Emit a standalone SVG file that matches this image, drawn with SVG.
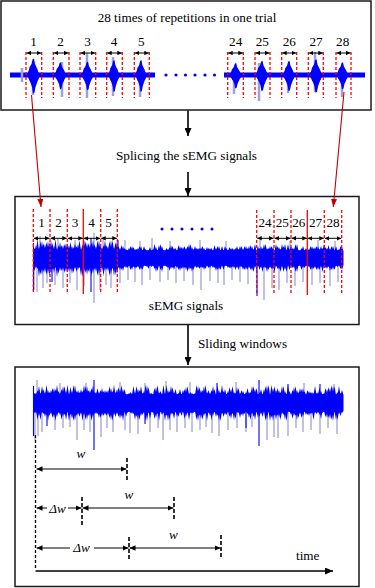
<svg xmlns="http://www.w3.org/2000/svg" width="375" height="588" viewBox="0 0 375 588">
<defs>
<style>
.box{fill:#fff;stroke:#1a1a1a;stroke-width:1.5}
.t{font-family:"Liberation Serif","Times New Roman",serif;font-size:13.2px;fill:#000}
.c{text-anchor:middle}
.it{font-style:italic}
.sig{fill:#0000ff}
.ls{stroke:#8484cc;stroke-width:1;fill:none}
.lw{stroke:#a0a0dc;stroke-width:2.5;fill:none}
.ds{stroke:#0000ff;stroke-width:1.1;fill:none}
.rd{stroke:#ff0000;stroke-width:1.3;stroke-dasharray:3 2;fill:none}
.rs{stroke:#ff0000;stroke-width:1.3;fill:none}
.da{stroke:#000;stroke-width:1;fill:none;marker-start:url(#sa);marker-end:url(#sa)}
.wa{stroke:#000;stroke-width:1;fill:none;marker-start:url(#wa);marker-end:url(#wa)}
.main{stroke:#000;stroke-width:1.6;fill:none;marker-end:url(#ma)}
.red{stroke:#c00000;stroke-width:1.1;fill:none;marker-end:url(#ra)}
.tick{stroke:#000;stroke-width:1.6;stroke-dasharray:4 2;fill:none}
.dot{fill:#0000ff}
</style>
<marker id="sa" viewBox="0 0 10 10" refX="10" refY="5" markerWidth="4.5" markerHeight="4.5" markerUnits="userSpaceOnUse" orient="auto-start-reverse"><path d="M0,0L10,5L0,10z" fill="#000"/></marker>
<marker id="wa" viewBox="0 0 10 10" refX="10" refY="5" markerWidth="6" markerHeight="5.5" preserveAspectRatio="none" markerUnits="userSpaceOnUse" orient="auto-start-reverse"><path d="M0,0L10,5L0,10z" fill="#000"/></marker>
<marker id="ma" viewBox="0 0 10 10" refX="10" refY="5" markerWidth="8" markerHeight="7" preserveAspectRatio="none" markerUnits="userSpaceOnUse" orient="auto"><path d="M0,0L10,5L0,10z" fill="#000"/></marker>
<marker id="ra" viewBox="0 0 10 10" refX="10" refY="5" markerWidth="8" markerHeight="6" preserveAspectRatio="none" markerUnits="userSpaceOnUse" orient="auto"><path d="M0,0L10,5L0,10z" fill="#c00000"/></marker>
<g id="burst" fill="#0000ff">
<ellipse rx="5" ry="8"/>
<path d="M-7,0L-5,-3L-4,-7L-2,-10L-1,-14L0.5,-15L1.5,-10L3,-7L4.5,-3L7,0L5,3L3.5,7L2,11L1,16L-0.5,17L-1.5,11L-3,7L-5,3Z"/>
<path d="M-6,-1L-4.5,-4L-3,-1ZM3,1L4.5,5L6,1Z"/>
</g>
<path id="b3" d="M33,395l1.5-2 1.5 2 1.5-5 1.5 5 1.5-2 1.5 2 1.5-6 1.5 6 1.5-10 1.5 10 1.5-3 1.5 3 1.5-7 1.5 7 1.5-6 1.5 6 1.5-4 1.5 4 1.5-6 1.5 6 1.5-9 1.5 9 1.5-10 1.5 10 1.5-8 1.5 8 1.5-10 1.5 10 1.5-4 1.5 4 1.5-3 1.5 3 1.5-4 1.5 4 1.5-9 1.5 9 1.5-5 1.5 5 1.5-7 1.5 7 1.5-3 1.5 3 1.5-7 1.5 7 1.5-5 1.5 5 1.5-4 1.5 4 1.5-4 1.5 4 1.5-9 1.5 9 1.5-4 1.5 4 1.5-3 1.5 3 1.5-8 1.5 8 1.5-10 1.5 10 1.5-6 1.5 6 1.5-1 1.5 1 1.5-3 1.5 3 1.5-9 1.5 9 1.5-9 1.5 9 1.5-5 1.5 5 1.5-2 1.5 2 1.5-10 1.5 10 1.5-8 1.5 8 1.5-2 1.5 2 1.5-7 1.5 7 1.5-10 1.5 10 1.5-4 1.5 4 1.5-10 1.5 10 1.5-10 1.5 10 1.5-4 1.5 4 1.5-8 1.5 8 1.5-6 1.5 6 1.5-2 1.5 2 1.5-1 1.5 1 1.5-6 1.5 6 1.5-9 1.5 9 1.5-3 1.5 3 1.5-1 1.5 1 1.5-10 1.5 10 1.5-8 1.5 8 1.5-5 1.5 5 1.5-10 1.5 10 1.5-5 1.5 5 1.5-5 1.5 5 1.5-6 1.5 6 1.5-10 1.5 10 1.5-3 1.5 3 1.5-4 1.5 4 1.5-1 1.5 1 1.5-8 1.5 8 1.5-9 1.5 9 1.5-2 1.5 2 1.5-7 1.5 7 1.5-5 1.5 5 1.5-1 1.5 1 1.5-7 1.5 7 1.5-3 1.5 3 1.5-9 1.5 9 1.5-7 1.5 7 1.5-3 1.5 3 1.5-1 1.5 1 1.5-9 1.5 9 1.5-10 1.5 10 1.5-10 1.5 10 1.5-9 1.5 9 1.5-7 1.5 7 1.5-3 1.5 3 1.5-9 1.5 9 1.5-1 1.5 1 1.5-4 1.5 4 1.5-5 1.5 5 1.5-9 1.5 9 1.5-3 1.5 3 1.5-6 1.5 6 1.5-4 1.5 4 1.5-5 1.5 5 1.5-3 1.5 3 1.5-2 1.5 2 1.5-2 1.5 2 1.5-8 1.5 8 1.5-1 1.5 1 1.5-7 1.5 7 1.5-8 1.5 8 1.5-10 1.5 10 1.5-9 1.5 9 1.5-3 1.5 3 1.5-2 1.5 2V411l-1.5 5-1.5-5 -1.5 9-1.5-9 -1.5 1-1.5-1 -1.5 9-1.5-9 -1.5 7-1.5-7 -1.5 6-1.5-6 -1.5 2-1.5-2 -1.5 4-1.5-4 -1.5 3-1.5-3 -1.5 9-1.5-9 -1.5 3-1.5-3 -1.5 4-1.5-4 -1.5 1-1.5-1 -1.5 7-1.5-7 -1.5 7-1.5-7 -1.5 5-1.5-5 -1.5 8-1.5-8 -1.5 1-1.5-1 -1.5 10-1.5-10 -1.5 4-1.5-4 -1.5 9-1.5-9 -1.5 5-1.5-5 -1.5 5-1.5-5 -1.5 7-1.5-7 -1.5 1-1.5-1 -1.5 10-1.5-10 -1.5 6-1.5-6 -1.5 6-1.5-6 -1.5 1-1.5-1 -1.5 6-1.5-6 -1.5 9-1.5-9 -1.5 3-1.5-3 -1.5 3-1.5-3 -1.5 4-1.5-4 -1.5 2-1.5-2 -1.5 8-1.5-8 -1.5 3-1.5-3 -1.5 6-1.5-6 -1.5 4-1.5-4 -1.5 6-1.5-6 -1.5 10-1.5-10 -1.5 5-1.5-5 -1.5 1-1.5-1 -1.5 9-1.5-9 -1.5 2-1.5-2 -1.5 3-1.5-3 -1.5 9-1.5-9 -1.5 5-1.5-5 -1.5 9-1.5-9 -1.5 2-1.5-2 -1.5 2-1.5-2 -1.5 2-1.5-2 -1.5 8-1.5-8 -1.5 5-1.5-5 -1.5 6-1.5-6 -1.5 1-1.5-1 -1.5 3-1.5-3 -1.5 9-1.5-9 -1.5 5-1.5-5 -1.5 2-1.5-2 -1.5 1-1.5-1 -1.5 3-1.5-3 -1.5 8-1.5-8 -1.5 1-1.5-1 -1.5 2-1.5-2 -1.5 10-1.5-10 -1.5 4-1.5-4 -1.5 9-1.5-9 -1.5 6-1.5-6 -1.5 3-1.5-3 -1.5 2-1.5-2 -1.5 2-1.5-2 -1.5 1-1.5-1 -1.5 6-1.5-6 -1.5 6-1.5-6 -1.5 6-1.5-6 -1.5 10-1.5-10 -1.5 7-1.5-7 -1.5 5-1.5-5 -1.5 5-1.5-5 -1.5 7-1.5-7 -1.5 3-1.5-3 -1.5 3-1.5-3 -1.5 10-1.5-10 -1.5 5-1.5-5 -1.5 9-1.5-9 -1.5 10-1.5-10 -1.5 6-1.5-6 -1.5 5-1.5-5 -1.5 10-1.5-10 -1.5 4-1.5-4 -1.5 1-1.5-1 -1.5 4-1.5-4 -1.5 9-1.5-9 -1.5 2-1.5-2 -1.5 10-1.5-10 -1.5 7-1.5-7 -1.5 5-1.5-5 -1.5 5-1.5-5 -1.5 3-1.5-3 -1.5 9-1.5-9 -1.5 9-1.5-9 -1.5 2-1.5-2Z"/>
<path id="b2" d="M33,251l1.5-3 1.5 3 1.5-12 1.5 12 1.5-10 1.5 10 1.5-8 1.5 8 1.5-9 1.5 9 1.5-9 1.5 9 1.5-8 1.5 8 1.5-12 1.5 12 1.5-6 1.5 6 1.5-6 1.5 6 1.5-7 1.5 7 1.5-7 1.5 7 1.5-9 1.5 9 1.5-4 1.5 4 1.5-5 1.5 5 1.5-11 1.5 11 1.5-7 1.5 7 1.5-10 1.5 10 1.5-8 1.5 8 1.5-9 1.5 9 1.5-7 1.5 7 1.5-11 1.5 11 1.5-5 1.5 5 1.5-6 1.5 6 1.5-6 1.5 6 1.5-10 1.5 10 1.5-11 1.5 11 1.5-9 1.5 9 1.5-5 1.5 5 1.5-6 1.5 6 1.5-3 1.5 3 1.5-1 1.5 1 1.5-5 1.5 5 1.5-4 1.5 4 1.5-2 1.5 2 1.5-5 1.5 5 1.5-1 1.5 1 1.5-2 1.5 2 1.5-1 1.5 1 1.5-1 1.5 1 1.5-7 1.5 7 1.5-1 1.5 1 1.5-7 1.5 7 1.5-1 1.5 1 1.5-3 1.5 3 1.5-4 1.5 4 1.5-5 1.5 5 1.5-3 1.5 3 1.5-6 1.5 6 1.5-4 1.5 4 1.5-5 1.5 5 1.5-5 1.5 5 1.5-7 1.5 7 1.5-2 1.5 2 1.5-3 1.5 3 1.5-3 1.5 3 1.5-5 1.5 5 1.5-1 1.5 1 1.5-3 1.5 3 1.5-3 1.5 3 1.5-6 1.5 6 1.5-5 1.5 5 1.5-1 1.5 1 1.5-1 1.5 1 1.5-3 1.5 3 1.5-4 1.5 4 1.5-3 1.5 3 1.5-3 1.5 3 1.5-2 1.5 2 1.5-5 1.5 5 1.5-5 1.5 5 1.5-3 1.5 3 1.5-6 1.5 6 1.5-2 1.5 2 1.5-1 1.5 1 1.5-3 1.5 3 1.5-3 1.5 3 1.5-7 1.5 7 1.5-3 1.5 3 1.5-5 1.5 5 1.5-1 1.5 1 1.5-5 1.5 5 1.5-2 1.5 2 1.5-5 1.5 5 1.5-1 1.5 1 1.5-2 1.5 2 1.5-3 1.5 3 1.5-7 1.5 7 1.5-1 1.5 1 1.5-3 1.5 3 1.5-1 1.5 1 1.5-2 1.5 2 1.5-5 1.5 5 1.5-3 1.5 3 1.5-5 1.5 5 1.5-2 1.5 2 1.5-3 1.5 3 1.5-4 1.5 4 1.5-6 1.5 6 1.5-5 1.5 5 1.5-1 1.5 1 1.5-1 1.5 1 1.5-5 1.5 5V265l-1.5 4-1.5-4 -1.5 2-1.5-2 -1.5 5-1.5-5 -1.5 5-1.5-5 -1.5 2-1.5-2 -1.5 3-1.5-3 -1.5 7-1.5-7 -1.5 5-1.5-5 -1.5 5-1.5-5 -1.5 4-1.5-4 -1.5 5-1.5-5 -1.5 2-1.5-2 -1.5 3-1.5-3 -1.5 5-1.5-5 -1.5 1-1.5-1 -1.5 7-1.5-7 -1.5 3-1.5-3 -1.5 5-1.5-5 -1.5 7-1.5-7 -1.5 7-1.5-7 -1.5 7-1.5-7 -1.5 4-1.5-4 -1.5 7-1.5-7 -1.5 4-1.5-4 -1.5 5-1.5-5 -1.5 3-1.5-3 -1.5 7-1.5-7 -1.5 5-1.5-5 -1.5 5-1.5-5 -1.5 7-1.5-7 -1.5 5-1.5-5 -1.5 5-1.5-5 -1.5 5-1.5-5 -1.5 2-1.5-2 -1.5 5-1.5-5 -1.5 5-1.5-5 -1.5 2-1.5-2 -1.5 3-1.5-3 -1.5 1-1.5-1 -1.5 5-1.5-5 -1.5 5-1.5-5 -1.5 5-1.5-5 -1.5 3-1.5-3 -1.5 1-1.5-1 -1.5 3-1.5-3 -1.5 4-1.5-4 -1.5 3-1.5-3 -1.5 4-1.5-4 -1.5 3-1.5-3 -1.5 5-1.5-5 -1.5 4-1.5-4 -1.5 7-1.5-7 -1.5 3-1.5-3 -1.5 4-1.5-4 -1.5 5-1.5-5 -1.5 1-1.5-1 -1.5 3-1.5-3 -1.5 6-1.5-6 -1.5 2-1.5-2 -1.5 1-1.5-1 -1.5 5-1.5-5 -1.5 6-1.5-6 -1.5 4-1.5-4 -1.5 2-1.5-2 -1.5 4-1.5-4 -1.5 1-1.5-1 -1.5 5-1.5-5 -1.5 5-1.5-5 -1.5 3-1.5-3 -1.5 2-1.5-2 -1.5 5-1.5-5 -1.5 3-1.5-3 -1.5 2-1.5-2 -1.5 5-1.5-5 -1.5 3-1.5-3 -1.5 10-1.5-10 -1.5 4-1.5-4 -1.5 11-1.5-11 -1.5 5-1.5-5 -1.5 11-1.5-11 -1.5 4-1.5-4 -1.5 11-1.5-11 -1.5 5-1.5-5 -1.5 11-1.5-11 -1.5 7-1.5-7 -1.5 8-1.5-8 -1.5 12-1.5-12 -1.5 3-1.5-3 -1.5 7-1.5-7 -1.5 8-1.5-8 -1.5 5-1.5-5 -1.5 6-1.5-6 -1.5 8-1.5-8 -1.5 6-1.5-6 -1.5 9-1.5-9 -1.5 3-1.5-3 -1.5 5-1.5-5 -1.5 11-1.5-11 -1.5 10-1.5-10 -1.5 7-1.5-7 -1.5 10-1.5-10 -1.5 4-1.5-4 -1.5 6-1.5-6Z"/>
</defs>

<g id="panel-trials">
<rect class="box" x="1" y="1" width="370" height="109"/>
<text class="t c" x="187" y="22">28 times of repetitions in one trial</text>
<g id="raw-signal">
<path class="sig" d="M10,72.5h145v5h-145zM224,72.5h141v5h-141z"/>
<path class="lw" d="M22,68V82M33,75V95M62,62V97M87,53V98M113,57V96M140,70V97M234,75V94M259,63V101M288,75V93M315,52V92M342,75V97"/>
<use href="#burst" transform="translate(33.5,75) scale(1,1.1)"/>
<use href="#burst" transform="translate(60.5,75) scale(0.95,0.85)"/>
<use href="#burst" transform="translate(87.5,75) scale(0.95,0.9)"/>
<use href="#burst" transform="translate(114,75) scale(0.9,1)"/>
<use href="#burst" transform="translate(141,75) scale(0.9,1)"/>
<use href="#burst" transform="translate(235.7,75) scale(0.95,0.8)"/>
<use href="#burst" transform="translate(262,75) scale(1,0.95)"/>
<use href="#burst" transform="translate(289,75) scale(0.95,0.95)"/>
<use href="#burst" transform="translate(316,75) scale(1,1.05)"/>
<use href="#burst" transform="translate(342.5,75) scale(0.95,0.85)"/>
<circle class="dot" cx="166" cy="75" r="1.6"/><circle class="dot" cx="176" cy="75" r="1.6"/><circle class="dot" cx="185.5" cy="75" r="1.6"/><circle class="dot" cx="195" cy="75" r="1.6"/><circle class="dot" cx="205" cy="75" r="1.6"/><circle class="dot" cx="214.5" cy="75" r="1.6"/>
</g>
<path class="rd" d="M26,52V98M41.7,52V98M53.3,52V98M69,52V98M80,52V98M95.7,52V98M106.7,52V98M122.3,52V98M134.3,52V98M149.3,52V98M227.7,52V98M243.3,52V98M255,52V98M270,52V98M281.7,52V98M296.7,52V98M308.3,52V98M323.3,52V98M336,52V98M351,52V98"/>
<line class="da" x1="26.5" y1="53" x2="41.2" y2="53"/>
<line class="da" x1="53.8" y1="53" x2="68.5" y2="53"/>
<line class="da" x1="80.5" y1="53" x2="95.2" y2="53"/>
<line class="da" x1="107.2" y1="53" x2="121.8" y2="53"/>
<line class="da" x1="134.8" y1="53" x2="148.8" y2="53"/>
<line class="da" x1="228.2" y1="53" x2="242.8" y2="53"/>
<line class="da" x1="255.5" y1="53" x2="269.5" y2="53"/>
<line class="da" x1="282.2" y1="53" x2="296.2" y2="53"/>
<line class="da" x1="308.8" y1="53" x2="322.8" y2="53"/>
<line class="da" x1="336.5" y1="53" x2="350.5" y2="53"/>
<text class="t c" x="33.5" y="46">1</text>
<text class="t c" x="60.5" y="46">2</text>
<text class="t c" x="87.5" y="46">3</text>
<text class="t c" x="114" y="46">4</text>
<text class="t c" x="141.3" y="46">5</text>
<text class="t c" x="235.7" y="46">24</text>
<text class="t c" x="262.3" y="46">25</text>
<text class="t c" x="289.3" y="46">26</text>
<text class="t c" x="316" y="46">27</text>
<text class="t c" x="342.7" y="46">28</text>
</g>

<g id="label-splicing">
<text class="t c" x="186.5" y="159.5">Splicing the sEMG signals</text>
</g>

<g id="panel-spliced">
<rect class="box" x="15" y="196.5" width="344" height="128"/>
<g id="spliced-signal">
<path class="ls" d="M34,265V290M37,265V292M43,265V288M47,265V283M55,265V285M63,265V288M70,265V283M77,265V290M84,265V286M94,233V303M100,265V290M106,265V285M111,265V288M120,265V283M128,265V280M135,265V282M142,265V285M150,265V280M160,265V282M168,265V280M176,265V283M184,265V281M193,265V285M201,265V290M210,265V281M218,265V283M224,265V285M232,265V280M240,265V282M248,265V284M264,265V300M272,265V288M279,265V290M287,265V283M295,265V286M303,265V282M312,265V285M320,265V283M330,265V286M338,265V282M40,251V236M58,251V238M75,251V240M103,251V238M125,251V240M140,251V241M152,251V238M170,251V241M200,251V240M226,251V241M260,251V240M290,251V241M318,251V240M335,251V241"/>
<use href="#b2" class="sig"/>
<use href="#b2" class="sig" transform="translate(1.5,516) scale(1,-1)"/>
<path class="ds" d="M33.5,243V290M91,238V292M257,251V296M52,265V282M118,251V240"/>
</g>
<circle class="dot" cx="162" cy="229" r="1.5"/><circle class="dot" cx="172" cy="229" r="1.5"/><circle class="dot" cx="182" cy="229" r="1.5"/><circle class="dot" cx="192" cy="229" r="1.5"/><circle class="dot" cx="202" cy="229" r="1.5"/><circle class="dot" cx="212" cy="229" r="1.5"/>
<path class="rd" d="M33.3,209V294M50,209V294M67.3,209V294M100.7,209V294M117.3,209V294M256.7,210V295M274,210V295M291,210V295M324.3,210V295M341.7,210V295"/>
<path class="rs" d="M83.3,209V294M307.3,210V295"/>
<line class="da" x1="33.8" y1="238.3" x2="49.5" y2="238.3"/>
<line class="da" x1="50.5" y1="238.3" x2="66.8" y2="238.3"/>
<line class="da" x1="67.8" y1="238.3" x2="82.8" y2="238.3"/>
<line class="da" x1="83.8" y1="238.3" x2="100.2" y2="238.3"/>
<line class="da" x1="101.2" y1="238.3" x2="116.8" y2="238.3"/>
<line class="da" x1="257.2" y1="238.3" x2="273.5" y2="238.3"/>
<line class="da" x1="274.5" y1="238.3" x2="290.5" y2="238.3"/>
<line class="da" x1="291.5" y1="238.3" x2="306.8" y2="238.3"/>
<line class="da" x1="307.8" y1="238.3" x2="323.8" y2="238.3"/>
<line class="da" x1="324.8" y1="238.3" x2="341.2" y2="238.3"/>
<text class="t c" x="41.5" y="227.3">1</text>
<text class="t c" x="58.5" y="227.3">2</text>
<text class="t c" x="75" y="227.3">3</text>
<text class="t c" x="91.5" y="227.3">4</text>
<text class="t c" x="108.5" y="227.3">5</text>
<text class="t c" x="265" y="227">24</text>
<text class="t c" x="282.3" y="227">25</text>
<text class="t c" x="298.8" y="227">26</text>
<text class="t c" x="315.5" y="227">27</text>
<text class="t c" x="333" y="227">28</text>
<text class="t c" x="186" y="309.5">sEMG signals</text>
</g>

<g id="label-sliding">
<text class="t" x="198" y="348.3">Sliding windows</text>
</g>

<g id="panel-windows">
<rect class="box" x="15" y="367" width="344" height="219.5"/>
<g id="window-signal">
<path class="ls" d="M35,411V440M38,411V436M42,411V432M55,411V430M63,411V428M70,411V427M77,411V440M84,411V430M90,411V432M101,411V437M107,411V428M113,411V432M125,411V430M130,411V433M138,411V434M150,411V432M158,411V428M163,411V440M170,411V430M177,411V432M185,411V428M192,411V432M200,411V430M206,411V427M212,411V433M219,411V436M228,411V430M237,411V428M246,411V432M252,411V427M267,411V440M274,411V437M278,411V438M288,411V436M296,411V428M303,411V432M311,411V430M320,411V434M328,411V428M337,411V434M37,395V380M60,395V383M86,395V383M120,395V382M145,395V383M166,395V381M190,395V382M236,395V382M304,395V383M334,395V384"/>
<use href="#b3" class="sig"/>
<use href="#b3" class="sig" transform="translate(1.5,806) scale(1,-1)"/>
<path class="ds" d="M33.5,386V436M94,380V450M259,380V446M217,395V383M288,395V384M320,395V384M47,411V426M145,411V424M246,411V428"/>
</g>
<line class="tick" style="stroke-width:1.3;stroke-dasharray:3 2" x1="35.5" y1="435" x2="35.5" y2="570"/>
<line class="main" style="stroke-width:1.3" x1="35.5" y1="571" x2="333" y2="571"/>
<text class="t" x="296" y="560">time</text>
<line class="wa" x1="36.5" y1="469" x2="126.5" y2="469"/>
<line class="tick" x1="127" y1="458" x2="127" y2="482"/>
<text class="t c it" x="81" y="458">w</text>
<line class="wa" x1="36.5" y1="508" x2="81.5" y2="508"/>
<rect x="47" y="501" width="21" height="13" fill="#fff"/>
<text class="t c it" x="57.5" y="512.5">Δw</text>
<line class="tick" x1="82" y1="497" x2="82" y2="527"/>
<line class="wa" x1="82.5" y1="508" x2="173.5" y2="508"/>
<line class="tick" x1="174" y1="497" x2="174" y2="519"/>
<text class="t c it" x="129" y="499">w</text>
<line class="wa" x1="36.5" y1="548" x2="128.5" y2="548"/>
<rect x="70" y="541" width="24" height="13" fill="#fff"/>
<text class="t c it" x="81.5" y="552">Δw</text>
<line class="tick" x1="129" y1="537" x2="129" y2="560"/>
<line class="wa" x1="129.5" y1="548" x2="220.5" y2="548"/>
<line class="tick" x1="221" y1="535" x2="221" y2="559"/>
<text class="t c it" x="173.5" y="539">w</text>
</g>

<g id="connectors">
<line class="main" x1="188" y1="110.5" x2="188" y2="136"/>
<line class="main" x1="188" y1="172" x2="188" y2="196"/>
<line class="main" x1="188" y1="325" x2="188" y2="365"/>
<line class="red" x1="31.5" y1="95" x2="41" y2="207"/>
<line class="red" x1="344" y1="92" x2="333.3" y2="207"/>
</g>
</svg>
